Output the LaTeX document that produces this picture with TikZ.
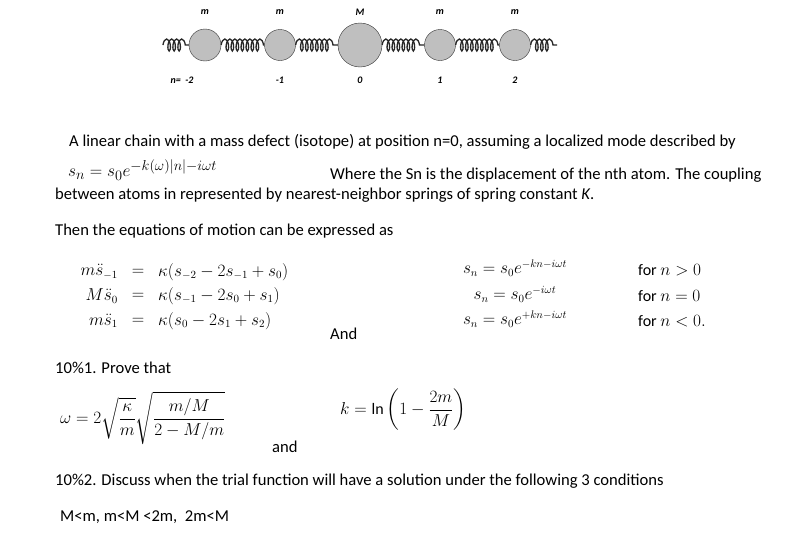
\documentclass[tikz,border=0pt]{standalone}
\usepackage{amsmath}
\usepackage{fontspec}
\setmainfont{Carlito}
\usetikzlibrary{decorations.pathmorphing,calc}
\begin{document}
\begin{tikzpicture}[x=1pt,y=-1pt,
  txt/.style={anchor=west,inner sep=0pt,font=\fontsize{16.6}{18}\selectfont},
  mth/.style={anchor=west,inner sep=0pt,font=\fontsize{16}{18}\selectfont},
  lab/.style={inner sep=0pt,font=\fontsize{10}{11}\selectfont\bfseries\itshape},
  ball/.style={circle,draw=black!80,fill=black!25,inner sep=0pt},
  spring/.style={draw=black!85,line width=1.3pt,decorate,decoration={coil,aspect=0.4,segment length=5pt,amplitude=6pt}}]
\useasboundingbox (0,0) rectangle (809,541);
\fill[white] (0,0) rectangle (809,541);
% chain
\coordinate (le) at (163,45);
\coordinate (re) at (557,45);
\node[ball,minimum size=32pt] (b1) at (205,45) {};
\node[ball,minimum size=31pt] (b2) at (280,45) {};
\node[ball,minimum size=44pt] (b3) at (360,45) {};
\node[ball,minimum size=31pt] (b4) at (440,45) {};
\node[ball,minimum size=31pt] (b5) at (515,45) {};
\draw[spring] (le) -- (b1);
\draw[spring] (b1) -- (b2);
\draw[spring] (b2) -- (b3);
\draw[spring] (b3) -- (b4);
\draw[spring] (b4) -- (b5);
\draw[spring] (b5) -- (re);
\foreach \i/\x/\t in {1/205/m,2/280/m,3/360/M,4/440/m,5/515/m}{\node[lab] (m\i) at (\x,12) {\t};}
\node[lab] (n0) at (182,80) {n=\ \ -2};
\node[lab] (n2) at (280,80) {-1};
\node[lab] (n3) at (360,80) {0};
\node[lab] (n4) at (440,80) {1};
\node[lab] (n5) at (515,80) {2};
% text
\node[txt] (t1) at (69,142) {A linear chain with a mass defect (isotope) at position n=0, assuming a localized mode described by};
\node[mth,font=\fontsize{19}{20}\selectfont] (f1) at (68,170) {$s_n = s_0 e^{-k(\omega)|n|-i\omega t}$};
\node[txt] (t2) at (330,175) {Where the Sn is the displacement of the nth atom. The coupling};
\node[txt] (t3) at (55,195) {between atoms in represented by nearest-neighbor springs of spring constant \textit{K}.};
\node[txt] (t4) at (55,231) {Then the equations of motion can be expressed as};
\foreach \y/\l/\r/\i in {272/{m\ddot s_{-1}}/{\kappa(s_{-2}-2s_{-1}+s_0)}/1, 296/{M\ddot s_0}/{\kappa(s_{-1}-2s_0+s_1)}/2, 321/{m\ddot s_1}/{\kappa(s_0-2s_1+s_2)}/3}{
  \node[mth,anchor=east] (el\i) at (118,\y) {$\l$};
  \node[mth,anchor=center] (eq\i) at (138,\y) {$=$};
  \node[mth] (er\i) at (158,\y) {$\r$};
}
\node[txt] (and1) at (330,334) {And};
\node[mth,anchor=center] (sn1) at (515,268) {$s_n = s_0 e^{-kn-i\omega t}$};
\node[mth,anchor=center] (sn2) at (515,294) {$s_n = s_0 e^{-i\omega t}$};
\node[mth,anchor=center] (sn3) at (515,319) {$s_n = s_0 e^{+kn-i\omega t}$};
\node[mth] (c1) at (638,270) {for $n>0$};
\node[mth] (c2) at (638,296) {for $n=0$};
\node[mth] (c3) at (638,321) {for $n<0.$};
\node[txt] (p1) at (55,368) {10\%1. Prove that};
\node[mth] (w) at (60,418) {$\omega = 2\sqrt{\dfrac{\kappa}{m}}\sqrt{\dfrac{m/M}{2-M/m}}$};
\node[mth] (k) at (340,410) {$k = \ln\left(1-\dfrac{2m}{M}\right)$};
\node[txt] (and2) at (272,447) {and};
\node[txt] (p2) at (55,481) {10\%2. Discuss when the trial function will have a solution under the following 3 conditions};
\node[txt] (p3) at (60,517) {M<m, m<M <2m, \ 2m<M};
\end{tikzpicture}
\end{document}
